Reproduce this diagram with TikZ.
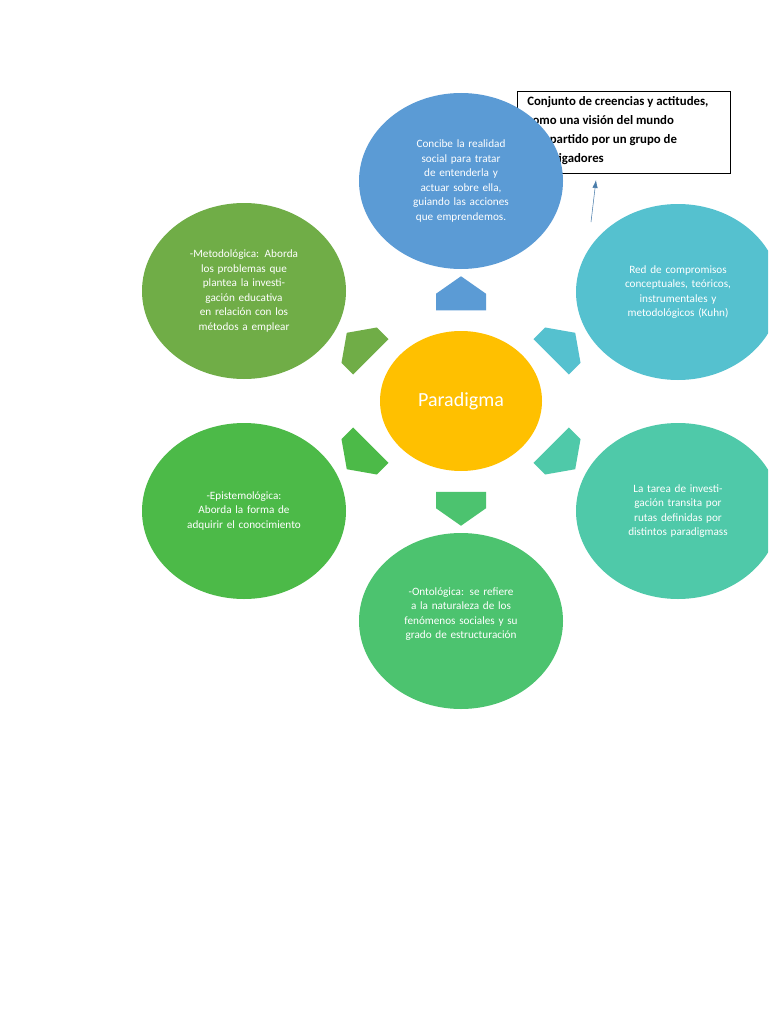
\documentclass[tikz,border=0pt]{standalone}
\usepackage{fontspec}
\setmainfont{Carlito}
\usetikzlibrary{shapes.arrows,arrows.meta}
\definecolor{cblue}{HTML}{5B9BD5}
\definecolor{ccyan}{HTML}{55C1CF}
\definecolor{cteal}{HTML}{4FC9A9}
\definecolor{cgreen}{HTML}{4CC36F}
\definecolor{cgreen2}{HTML}{4CBA48}
\definecolor{colive}{HTML}{70AD47}
\definecolor{cgold}{HTML}{FFC000}
\tikzset{
 ell/.style={ellipse,minimum width=204\pxu,minimum height=176\pxu,inner sep=0pt},
 etext/.style={text=white,font=\fontsize{8.4}{10.9}\selectfont,align=center,text width=118\pxu},
 barrow/.style={single arrow,minimum height=34\pxu,minimum width=50\pxu,single arrow head extend=0pt,inner sep=0pt,single arrow tip angle=110}
}
\newlength\pxu \setlength\pxu{0.75pt}
\begin{document}
\begin{tikzpicture}[x=0.75pt,y=-0.75pt]
\fill[white] (0,0) rectangle (768,1024);
\clip (0,0) rectangle (768,1024);
\node[draw=black,line width=0.8pt,minimum width=213\pxu,minimum height=82\pxu,anchor=north west] (box) at (517,91) {};
\node[anchor=north west,align=left,font=\bfseries\fontsize{9.6}{14.2}\selectfont,inner sep=0pt] (boxt) at (527,96) {Conjunto de creencias y actitudes,\\como una visión del mundo\\compartido por un grupo de\\investigadores};
\fill[cblue] (461,181) ellipse (102 and 88);
\node[etext] (top) at (461,181) {Concibe la realidad social para tratar de entenderla y actuar sobre ella, guiando las acciones que emprendemos.};
\coordinate (s) at (591,222); \coordinate (e) at (596,180);
\draw[cblue!80!black,-{Latex[length=6pt,width=4pt]}] (s) -- (e);
\fill[ccyan] (678,292) ellipse (102 and 88);
\node[etext] (rt) at (678,292) {Red de compromisos conceptuales, teóricos, instrumentales y metodológicos (Kuhn)};
\fill[cteal] (678,511) ellipse (102 and 88);
\node[etext] (rb) at (678,511) {La tarea de investigación transita por rutas definidas por distintos paradigmass};
\fill[cgreen] (461,621) ellipse (102 and 88);
\node[etext] (bo) at (461,614) {-Ontológica: se refiere a la naturaleza de los fenómenos sociales y su grado de estructuración};
\fill[cgreen2] (244,511) ellipse (102 and 88);
\node[etext] (lb) at (244,511) {-Epistemológica: Aborda la forma de adquirir el conocimiento};
\fill[colive] (244,291) ellipse (102 and 88);
\node[etext] (lt) at (244,291) {-Metodológica: Aborda los problemas que plantea la investigación educativa en relación con los métodos a emplear};
\fill[cgold] (461,401) ellipse (81 and 70);
\node[text=white,font=\fontsize{15}{18}\selectfont] (c) at (461,401) {Paradigma};
\node[barrow,fill=cblue,rotate=90] (a1) at (461,302) {};
\node[barrow,fill=ccyan,rotate=45] (a2) at (557,351) {};
\node[barrow,fill=cteal,rotate=-45] (a3) at (557,451) {};
\node[barrow,fill=cgreen,rotate=-90] (a4) at (461,500) {};
\node[barrow,fill=cgreen2,rotate=-135] (a5) at (365,451) {};
\node[barrow,fill=colive,rotate=135] (a6) at (365,351) {};
\end{tikzpicture}
\end{document}
